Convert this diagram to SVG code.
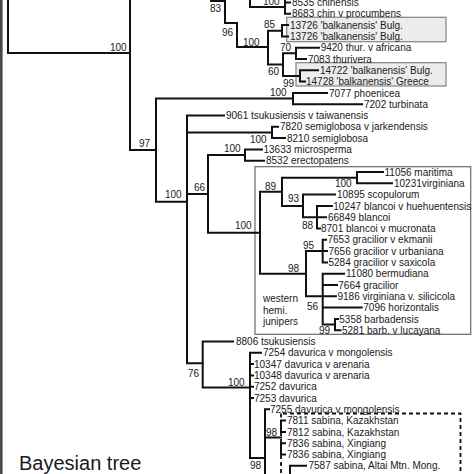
<svg xmlns="http://www.w3.org/2000/svg" width="474" height="474" viewBox="0 0 474 474">
<style>
text{font-family:"Liberation Sans",Arial,sans-serif;font-size:10px;fill:#1a1a1a}
.lf{font-size:10px}
.sp{font-size:10px}
.title{font-size:20px}
.br{fill:none;stroke:#111;stroke-width:2;stroke-linecap:square}
.box{fill:#ececec;stroke:#8c8c8c;stroke-width:1.3}
.wbox{fill:none;stroke:#6a6a6a;stroke-width:1.2}
.dash{fill:none;stroke:#111;stroke-width:1.8;stroke-dasharray:4 3}
</style>
<rect width="474" height="474" fill="#fff"/>
<rect x="0" y="0" width="2.6" height="474" fill="#4a4a4a"/>
<g id="boxes">
<rect class="box" x="286.7" y="17.3" width="159.3" height="24.4"/>
<rect class="box" x="296" y="62.7" width="150" height="23.3"/>
<rect class="wbox" x="255" y="166.7" width="215.7" height="167.6"/>
<path class="dash" d="M283,413.5 H460.5 V474"/>
<path class="dash" d="M281,413.5 V421 M281,432 V443 M281,455 V474"/>
</g>
<g id="connectors" class="br">
<path d="M8,-2 V53 H130 M130,-2 V150 H156 M156,98.5 V201.7 H187 M156,98.5 H293 M293,92.9 V104.2 M293,92.9 H327 M293,104.2 H362"/>
<path d="M187,115.5 V363.3 H202.7 M187,115.5 H224 M187,132.5 H272 M272,126.8 V138.1 M272,126.8 H278 M272,138.1 H285"/>
<path d="M187,193.9 H208 M208,155 V232.7 H260 M208,155 H245 M245,149.4 V160.7 M245,149.4 H262 M245,160.7 H264"/>
<path d="M260,191.8 V273.7 H306 M260,191.8 H282 M282,177.7 V205.9 H303 M282,177.7 H357 M357,172 V183.3 M357,172 H383 M357,183.3 H392"/>
<path d="M303,194.6 V217.2 H317 M303,194.6 H335 M317,205.9 V228.5 M317,205.9 H332 M317,217.2 H326 M317,228.5 H320"/>
<path d="M306,251.1 V296.3 H336 M306,251.1 H322.7 M322.7,239.8 V262.4 M322.7,239.8 H326 M322.7,251.1 H327 M322.7,262.4 H327"/>
<path d="M322.7,273.7 V324.6 H335 M322.7,273.7 H344 M322.7,285 H337 M322.7,307.6 H361.7 M335,318.9 V330.2 M335,318.9 H338 M335,330.2 H340.5"/>
<path d="M202.7,341.5 V387.5 H250 M202.7,341.5 H233 M250,352.8 V458 H265 M250,352.8 H261 M250,364.1 H253 M250,375.4 H253 M250,386.7 H253 M250,398 H253"/>
<path d="M265,409.3 V476 M265,409.3 H269 M265,437.5 H281 M281,420.6 V431.9 M281,443.2 V454.5 M281,420.6 H285 M281,431.9 H285 M281,443.2 H285 M281,454.5 H285 M290,465.8 V476 M290,465.8 H306"/>
<path d="M211,1 H225 V23 H237 V47 H268 M250,-2 V7 H285 M285,-2 V13.8 H290 M285,2.5 H290"/>
<path d="M268,30.7 V64.6 H283 M268,30.7 H282 M282,25.1 V36.4 M282,25.1 H288 M282,36.4 H288 M283,53.3 V76 H300 M283,53.3 H296 M296,47.7 V59 M296,47.7 H319 M296,59 H306 M300,70.3 V81.6 M300,70.3 H318 M300,81.6 H305"/>
</g>
<g id="support">
<text class="sp" x="110" y="51">100</text>
<text class="sp" x="139" y="147">97</text>
<text class="sp" x="165" y="198">100</text>
<text class="sp" x="270" y="96">100</text>
<text class="sp" x="250" y="143">100</text>
<text class="sp" x="224" y="152">100</text>
<text class="sp" x="194" y="191">66</text>
<text class="sp" x="235" y="229">100</text>
<text class="sp" x="265" y="189.5">89</text>
<text class="sp" x="335" y="187">100</text>
<text class="sp" x="288" y="202">93</text>
<text class="sp" x="302" y="229">88</text>
<text class="sp" x="303" y="249">95</text>
<text class="sp" x="288" y="272">98</text>
<text class="sp" x="307" y="310">56</text>
<text class="sp" x="319" y="334">99</text>
<text class="sp" x="188" y="377">76</text>
<text class="sp" x="228" y="386">100</text>
<text class="sp" x="266" y="435.5">98</text>
<text class="sp" x="250" y="469">98</text>
<text class="sp" x="210" y="12">83</text>
<text class="sp" x="222" y="36">96</text>
<text class="sp" x="243" y="45.5">100</text>
<text class="sp" x="264" y="27.5">85</text>
<text class="sp" x="280" y="51">70</text>
<text class="sp" x="268" y="75">60</text>
<text class="sp" x="283" y="87">99</text>
<text class="sp" x="263" y="4.5">100</text>
</g>
<g id="leaves" class="lf">
<g id="l00"><text x="292" y="6.1">8535 chinensis</text></g>
<g id="l01"><text x="292" y="17.4">8683 chin v procumbens</text></g>
<g id="l02"><text x="290" y="28.7">13726 'balkanensis' Bulg.</text></g>
<g id="l03"><text x="290" y="40">13726 'balkanensis' Bulg.</text></g>
<g id="l04"><text x="320.7" y="51.3">9420 thur. v africana</text></g>
<g id="l05"><text x="308" y="62.6">7083 thurivera</text></g>
<g id="l06"><text x="320" y="73.9">14722 'balkanensis' Bulg.</text></g>
<g id="l07"><text x="306" y="85.2">14728 'balkanensis' Greece</text></g>
<g id="l08"><text x="329" y="96.5">7077 phoenicea</text></g>
<g id="l09"><text x="364" y="107.8">7202 turbinata</text></g>
<g id="l10"><text x="226" y="119.1">9061 tsukusiensis v taiwanensis</text></g>
<g id="l11"><text x="280" y="130.4">7820 semiglobosa v jarkendensis</text></g>
<g id="l12"><text x="287" y="141.7">8210 semiglobosa</text></g>
<g id="l13"><text x="263.5" y="153">13633 microsperma</text></g>
<g id="l14"><text x="266" y="164.3">8532 erectopatens</text></g>
<g id="l15"><text x="384.5" y="175.6">11056 maritima</text></g>
<g id="l16"><text x="394" y="186.9">10231virginiana</text></g>
<g id="l17"><text x="337" y="198.2">10895 scopulorum</text></g>
<g id="l18"><text x="333.3" y="209.5">10247 blancoi v huehuentensis</text></g>
<g id="l19"><text x="328" y="220.8">66849 blancoi</text></g>
<g id="l20"><text x="321" y="232.1">8701 blancoi v mucronata</text></g>
<g id="l21"><text x="327.5" y="243.4">7653 gracilior v ekmanii</text></g>
<g id="l22"><text x="328.5" y="254.7">7656 gracilior v urbaniana</text></g>
<g id="l23"><text x="328.5" y="266">5284 gracilior v saxicola</text></g>
<g id="l24"><text x="346" y="277.3">11080 bermudiana</text></g>
<g id="l25"><text x="338.3" y="288.6">7664 gracilior</text></g>
<g id="l26"><text x="337.5" y="299.9">9186 virginiana v. silicicola</text></g>
<g id="l27"><text x="363.3" y="311.2">7096 horizontalis</text></g>
<g id="l28"><text x="339.3" y="322.5">5358 barbadensis</text></g>
<g id="l29"><text x="342" y="333.8">5281 barb. v lucayana</text></g>
<g id="l30"><text x="236" y="345.1">8806 tsukusiensis</text></g>
<g id="l31"><text x="263" y="356.4">7254 davurica v mongolensis</text></g>
<g id="l32"><text x="254" y="367.7">10347 davurica v arenaria</text></g>
<g id="l33"><text x="254" y="379">10348 davurica v arenaria</text></g>
<g id="l34"><text x="254" y="390.3">7252 davurica</text></g>
<g id="l35"><text x="254" y="401.6">7253 davurica</text></g>
<g id="l36"><text x="270" y="412.9">7255 davurica v mongolensis</text></g>
<g id="l37"><text x="287" y="424.2">7811 sabina, Kazakhstan</text></g>
<g id="l38"><text x="287" y="435.5">7812 sabina, Kazakhstan</text></g>
<g id="l39"><text x="287" y="446.8">7836 sabina, Xingiang</text></g>
<g id="l40"><text x="287" y="458.1">7836 sabina, Xingiang</text></g>
<g id="l41"><text x="308.5" y="469.4">7587 sabina, Altai Mtn. Mong.</text></g>
</g>
<g id="group-label">
<text x="263" y="302">western</text>
<text x="263" y="313.5">hemi.</text>
<text x="263" y="324.5">junipers</text>
</g>
<g id="title"><text class="title" x="19" y="470">Bayesian tree</text></g>
</svg>
